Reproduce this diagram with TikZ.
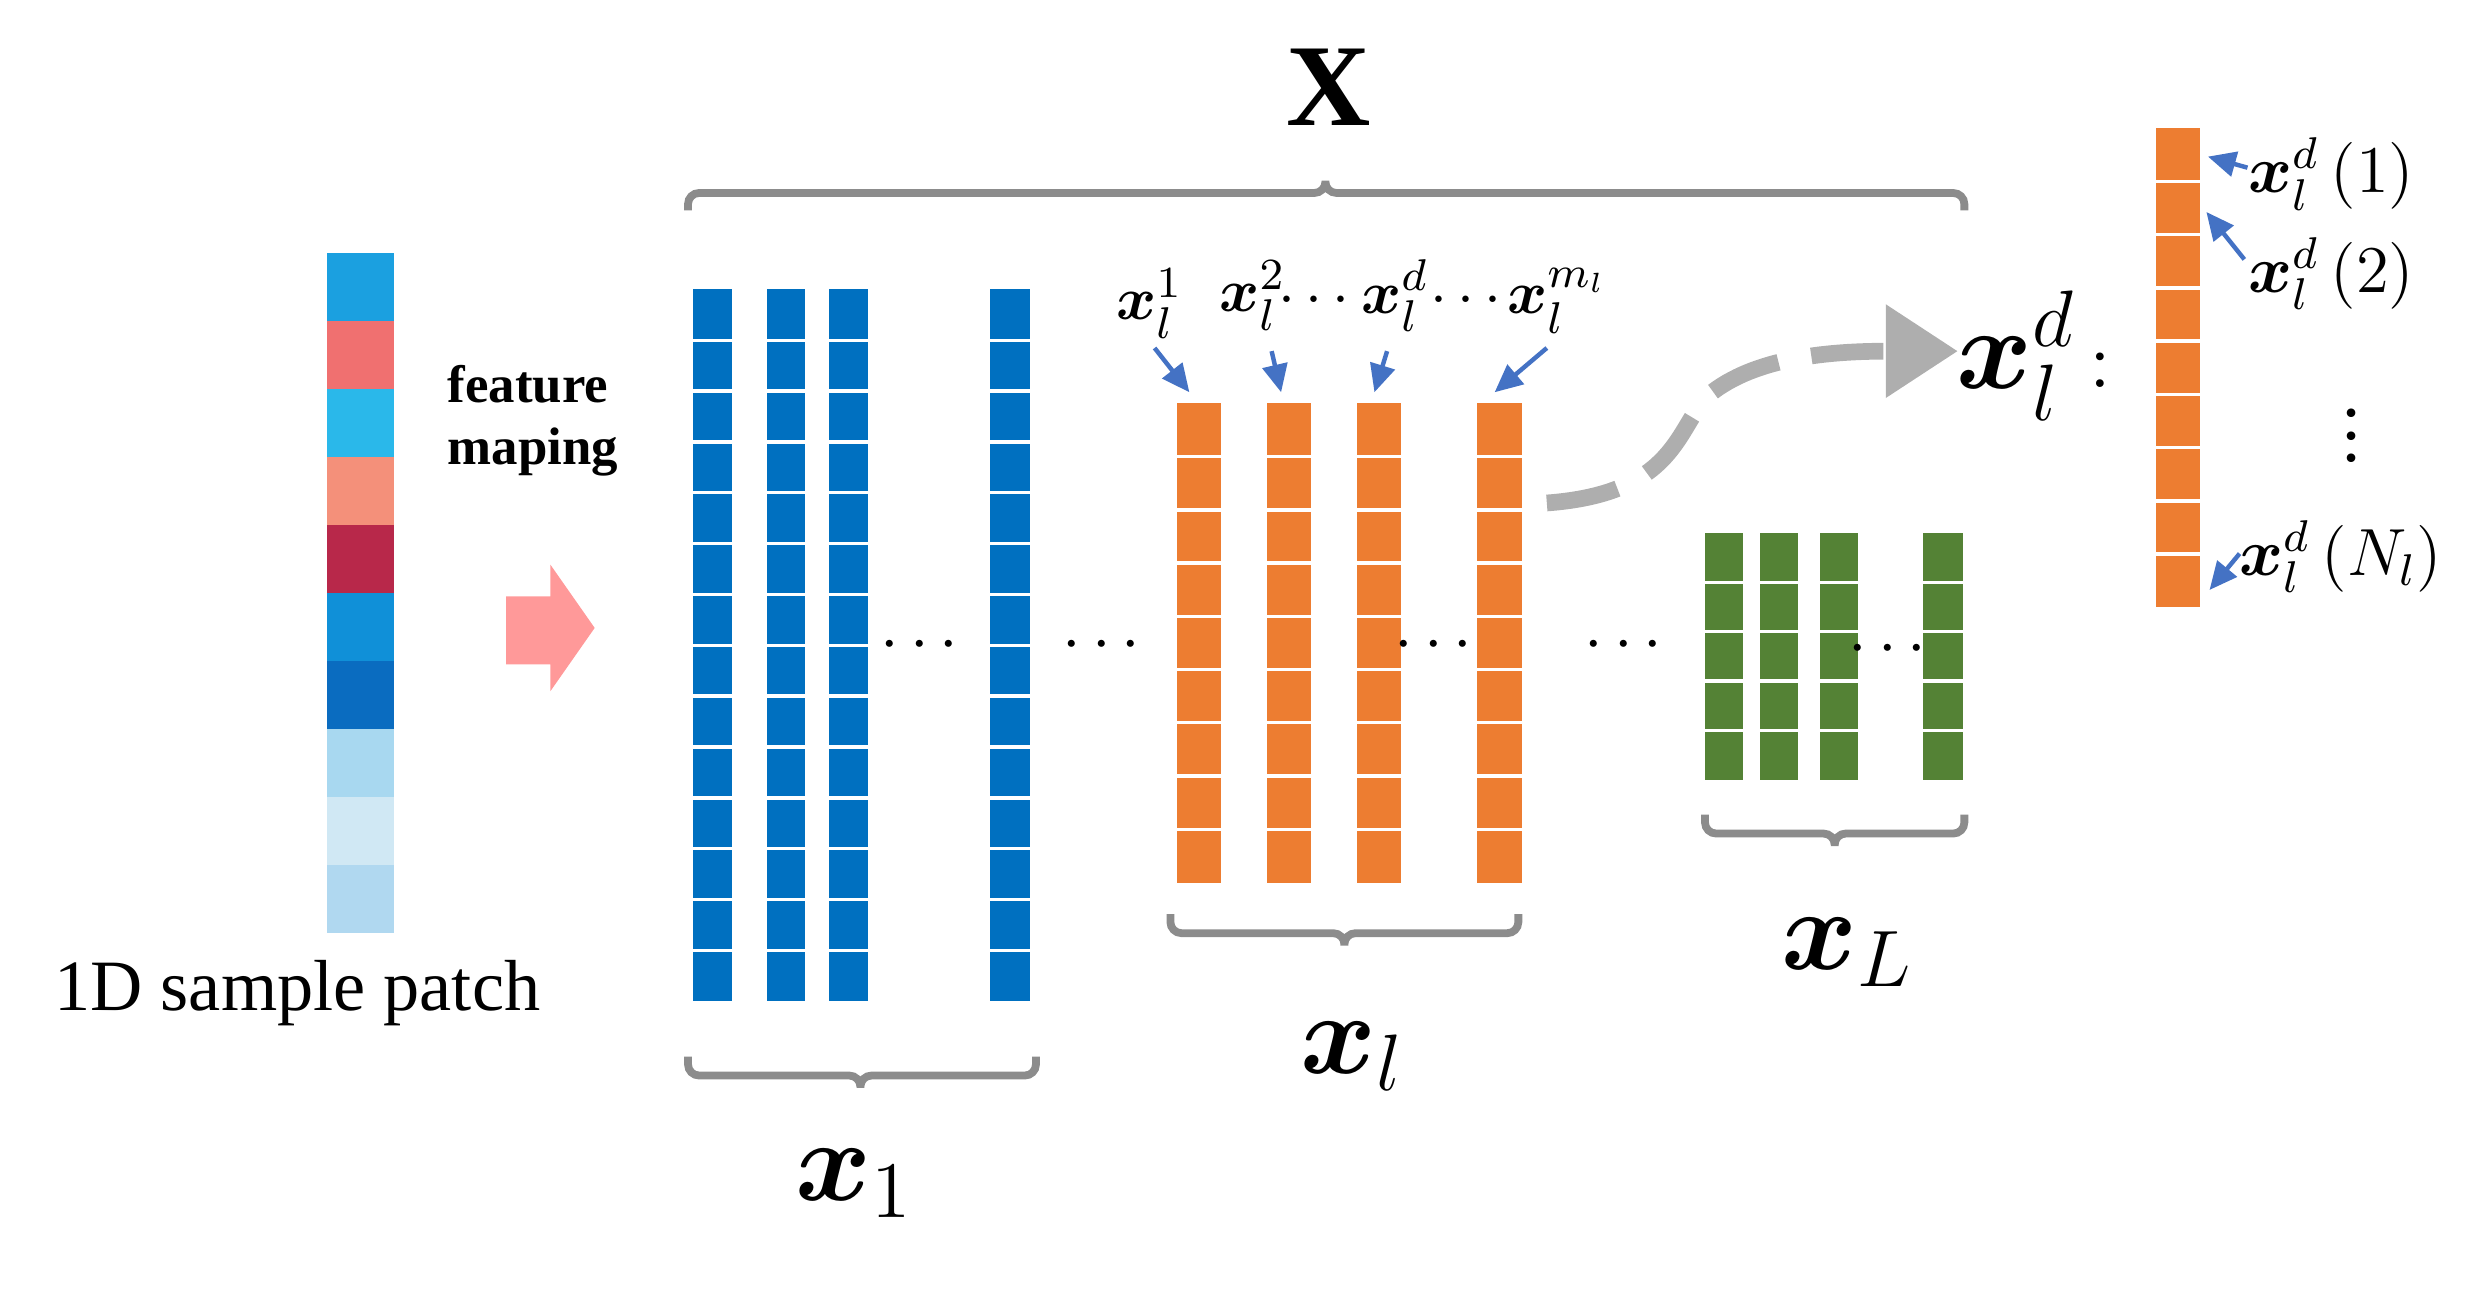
\documentclass[tikz,border=0pt]{standalone}
\usepackage{fontspec}
\usepackage{amsmath,bm}
\setmainfont{Liberation Serif}
\usetikzlibrary{arrows.meta}
\definecolor{cblue}{HTML}{0070C0}
\definecolor{corange}{HTML}{ED7D31}
\definecolor{cgreen}{HTML}{548235}
\definecolor{cgray}{HTML}{8C8C8C}
\definecolor{carrow}{HTML}{4472C4}
\tikzset{
 brace/.style={draw=cgray,line width=1.4pt,rounded corners=2pt},
 lblarrow/.style={draw=carrow,line width=0.8pt,-{Triangle[length=5pt,width=4.5pt]}},
 dotsnode/.style={font=\fontsize{12}{12}\selectfont},
}
\newcommand{\cellcol}[6]{%
 \fill[#6] (#1,#3) rectangle (#2,#4);
 \pgfmathsetmacro{\hh}{(#4-#3)/#5}
 \foreach \k in {1,...,\numexpr#5-1\relax}{
   \draw[white,line width=0.6pt] (#1,#3+\k*\hh) -- (#2,#3+\k*\hh);}
}
\begin{document}
\begin{tikzpicture}[x=0.01cm,y=-0.01cm]
\useasboundingbox (0,0) rectangle (1568,817);
\foreach \c [count=\i from 0] in {1BA0E0,F07070,2AB8EA,F4907A,B8284A,1090D8,0A6CC0,A8D8F0,D0E8F4,B0D8F0}{
  \definecolor{tmp}{HTML}{\c}
  \fill[tmp] (207,160+\i*43) rectangle (249,203+\i*43);
}
\node (patch) at (188,628) {\fontsize{13}{13}\selectfont 1D sample patch};
\node[align=left,font=\bfseries\fontsize{9.5}{11}\selectfont] (fm) at (337,266) {feature\\maping};
\fill[red!40] (320,377) -- (348,377) -- (348,357) -- (376,397) -- (348,437) -- (348,420) -- (320,420) -- cycle;
\cellcol{438}{463}{183}{633}{14}{cblue}
\cellcol{485}{509}{183}{633}{14}{cblue}
\cellcol{524}{549}{183}{633}{14}{cblue}
\cellcol{626}{651}{183}{633}{14}{cblue}
\cellcol{744}{772}{255}{558}{9}{corange}
\cellcol{801}{829}{255}{558}{9}{corange}
\cellcol{858}{886}{255}{558}{9}{corange}
\cellcol{934}{962}{255}{558}{9}{corange}
\cellcol{1078}{1102}{337}{493}{5}{cgreen}
\cellcol{1113}{1137}{337}{493}{5}{cgreen}
\cellcol{1151}{1175}{337}{493}{5}{cgreen}
\cellcol{1216}{1241}{337}{493}{5}{cgreen}
\cellcol{1363}{1391}{81}{384}{9}{corange}
\node[dotsnode] (d1) at (585,408) {$\cdots$};
\node[dotsnode] (d2) at (700,408) {$\cdots$};
\node[dotsnode] (d3) at (910,408) {$\cdots$};
\node[dotsnode] (d4) at (1030,408) {$\cdots$};
\node[dotsnode] (d5) at (1197,411) {$\cdots$};
\draw[brace] (435,133) -- (435,122) -- (838,122) -- (838,110) -- (838,122) -- (1242,122) -- (1242,133);
\draw[brace] (435,668) -- (435,680) -- (544,680) -- (544,692) -- (544,680) -- (655,680) -- (655,668);
\draw[brace] (740,578) -- (740,590) -- (850,590) -- (850,602) -- (850,590) -- (960,590) -- (960,578);
\draw[brace] (1078,515) -- (1078,527) -- (1160,527) -- (1160,539) -- (1160,527) -- (1242,527) -- (1242,515);
\node (X) at (840,55) {\fontsize{21}{21}\selectfont$\mathbf{X}$};
\node (x1) at (540,748) {\fontsize{21}{21}\selectfont$\bm{x}_1$};
\node (xl) at (855,668) {\fontsize{21}{21}\selectfont$\bm{x}_l$};
\node (xL) at (1168,602) {\fontsize{21}{21}\selectfont$\bm{x}_L$};
\begin{scope}[every node/.style={font=\fontsize{11}{11}\selectfont}]
\node (t1) at (727,192) {$\bm{x}_l^1$};
\node (t2) at (792,187) {$\bm{x}_l^2$};
\node (td1) at (834,190) {$\cdots$};
\node (td) at (882,187) {$\bm{x}_l^d$};
\node (td2) at (930,190) {$\cdots$};
\node (tm) at (985,190) {$\bm{x}_l^{m_l}$};
\end{scope}
\coordinate (a1) at (752,248); \coordinate (a2) at (810,248);
\coordinate (a3) at (869,248); \coordinate (a4) at (945,248);
\draw[lblarrow] (730,220) -- (a1);
\draw[lblarrow] (804,222) -- (a2);
\draw[lblarrow] (877,222) -- (a3);
\draw[lblarrow] (978,220) -- (a4);
\node (xd) at (1275,225) {\fontsize{21}{21}\selectfont$\bm{x}_l^d$};
\node (colon) at (1328,234) {\fontsize{15}{15}\selectfont$:$};
\draw[cgray!70,line width=3pt,dash pattern=on 13pt off 6pt,-{Triangle[length=13pt,width=16pt]}]
  (978,318) .. controls (1060,312) and (1060,270) .. (1080,250) .. controls (1110,225) and (1160,222) .. (1238,222);
\begin{scope}[every node/.style={font=\fontsize{11.5}{11.5}\selectfont}]
\node (r1) at (1474,110) {$\bm{x}_l^d\,(1)$};
\node (r2) at (1474,173) {$\bm{x}_l^d\,(2)$};
\node (r3) at (1480,352) {$\bm{x}_l^d\,(N_l)$};
\node (rv) at (1487,265) {\fontsize{13}{13}\selectfont$\vdots$};
\end{scope}
\coordinate (b1) at (1396,99); \coordinate (b2) at (1395,134); \coordinate (b3) at (1397,373);
\draw[lblarrow] (1421,106) -- (b1);
\draw[lblarrow] (1419,164) -- (b2);
\draw[lblarrow] (1416,350) -- (b3);
\end{tikzpicture}
\end{document}
